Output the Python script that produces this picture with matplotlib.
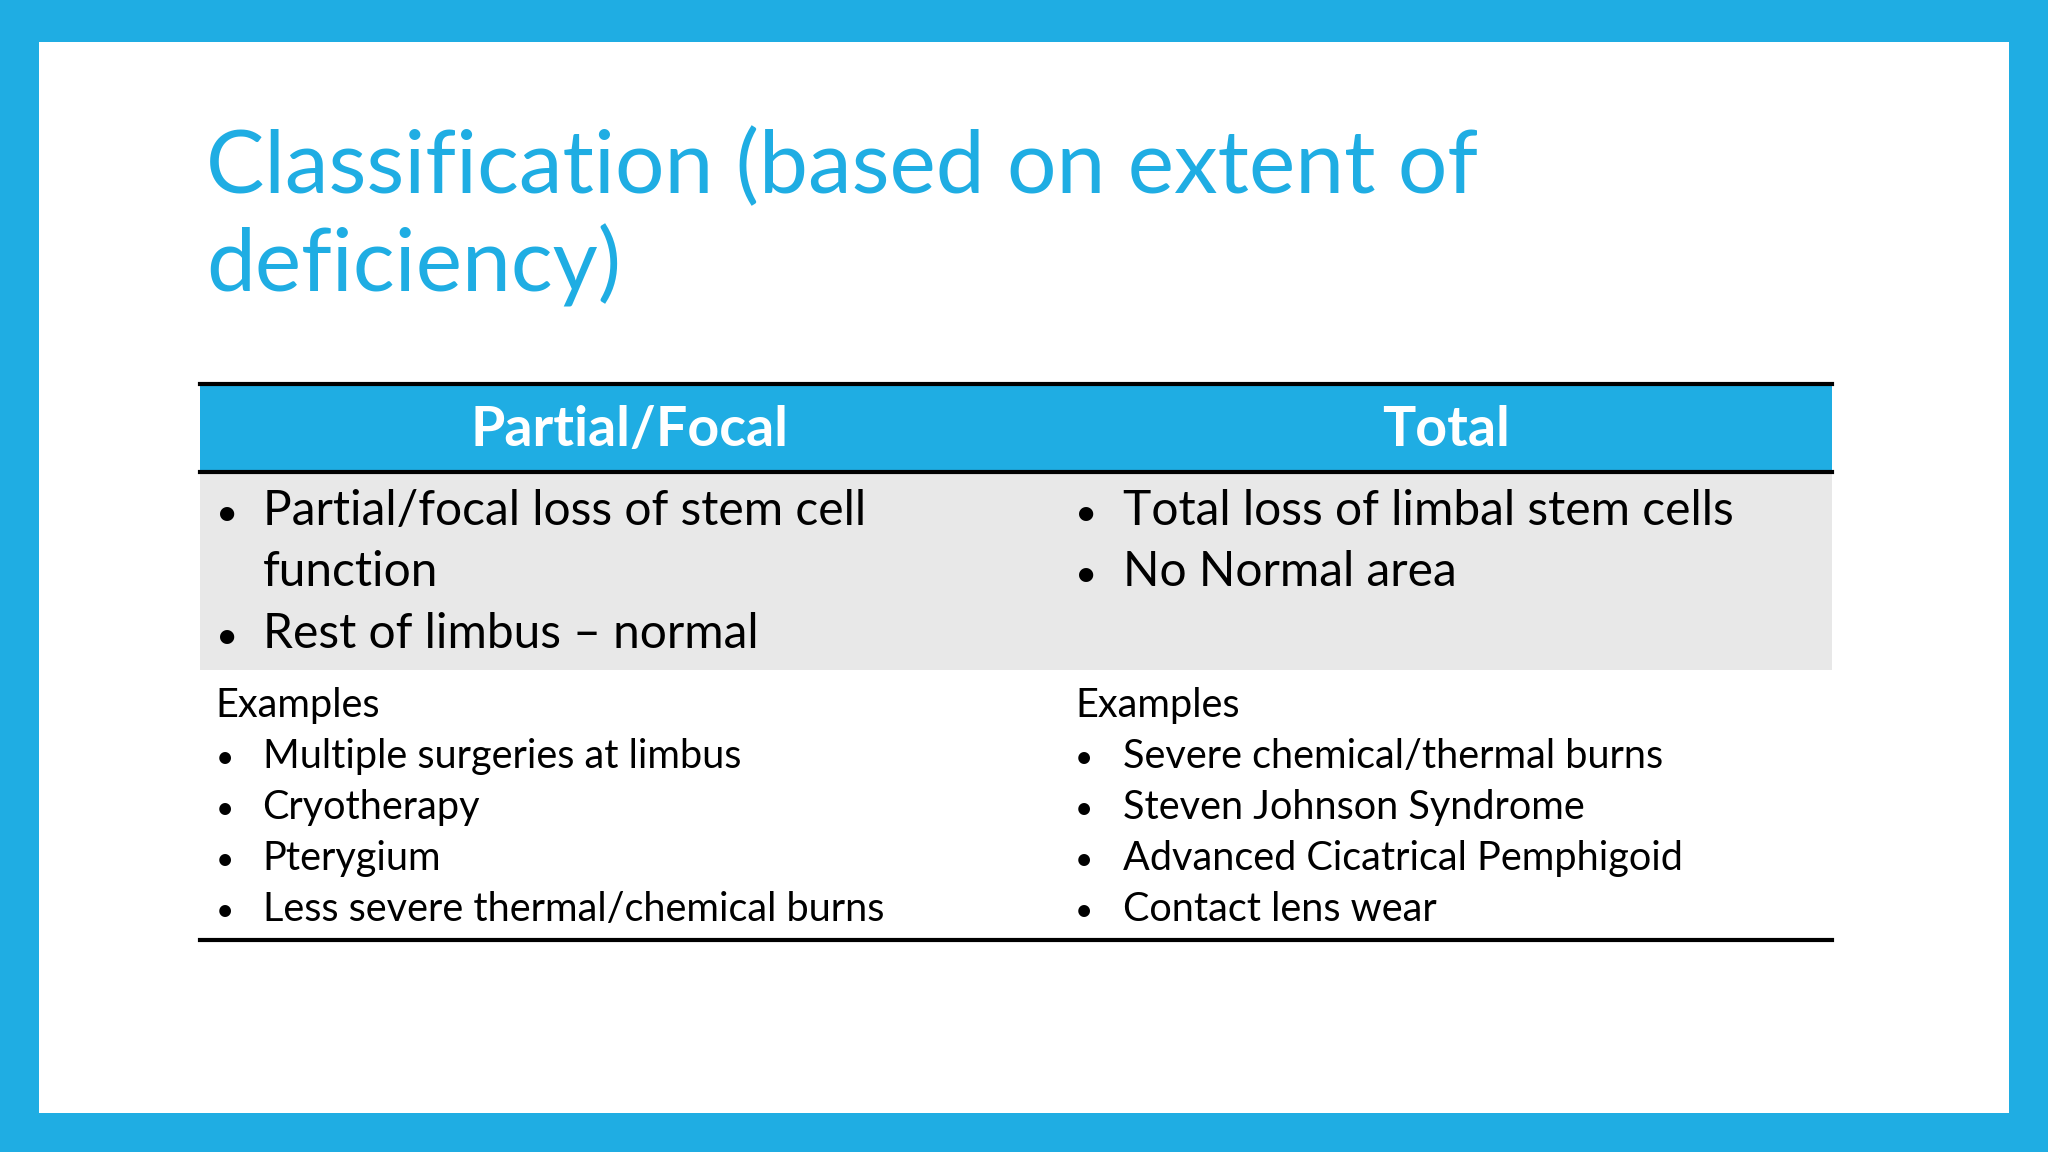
import matplotlib
matplotlib.use("Agg")
import matplotlib.pyplot as plt
from matplotlib.patches import Rectangle

title_lines = ["Classification (based on extent of", "deficiency)"]
headers = ["Partial/Focal", "Total"]
row1 = [["Partial/focal loss of stem cell", "function"], ["Rest of limbus \u2013 normal"]]
row1_right = [["Total loss of limbal stem cells"], ["No Normal area"]]
examples_left = ["Multiple surgeries at limbus", "Cryotherapy", "Pterygium", "Less severe thermal/chemical burns"]
examples_right = ["Severe chemical/thermal burns", "Steven Johnson Syndrome", "Advanced Cicatrical Pemphigoid", "Contact lens wear"]

BLUE = "#1FADE3"
W, H = 1568, 882
plt.rcParams['font.family'] = ['Lato', 'DejaVu Sans']
fig = plt.figure(figsize=(20.48, 11.52), dpi=100)
fig.patch.set_facecolor(BLUE)

def X(x): return x / W
def Y(y): return 1 - y / H

def rect(x0, y0, x1, y1, color):
    fig.patches.append(Rectangle((X(x0), Y(y1)), X(x1) - X(x0), Y(y0) - Y(y1),
                                 transform=fig.transFigure, color=color, lw=0))

def hline(y, x0=153, x1=1403, lw=3):
    fig.add_artist(plt.Line2D([X(x0), X(x1)], [Y(y), Y(y)], color="black", lw=lw,
                              transform=fig.transFigure))

rect(30, 32, 1538, 852, "white")
rect(153, 294, 1403, 361, BLUE)
rect(153, 361, 1403, 513, "#E8E8E8")
hline(294); hline(361); hline(720)

for i, t in enumerate(title_lines):
    fig.text(X(158), Y(148 + i * 75), t, color=BLUE, fontsize=63, va="baseline")

fig.text(X(482), Y(329), headers[0], color="white", fontsize=40, fontweight="bold", ha="center", va="center")
fig.text(X(1107), Y(329), headers[1], color="white", fontsize=40, fontweight="bold", ha="center", va="center")

def bullets(items, xb, xt, y0, step, fs):
    y = y0
    for item in items:
        lines = item if isinstance(item, list) else [item]
        fig.text(X(xb), Y(y), "\u2022", fontsize=fs * 0.8, va="baseline")
        for ln in lines:
            fig.text(X(xt), Y(y), ln, fontsize=fs, va="baseline")
            y += step

bullets(row1, 165, 201, 402, 47, 34.5)
bullets(row1_right, 823, 860, 402, 47, 34.5)

fig.text(X(165), Y(549), "Examples", fontsize=28.5, va="baseline")
fig.text(X(823), Y(549), "Examples", fontsize=28.5, va="baseline")
bullets(examples_left, 165, 201, 588, 39, 28.5)
bullets(examples_right, 823, 860, 588, 39, 28.5)

fig.savefig("out.png", dpi=100, facecolor=BLUE)
